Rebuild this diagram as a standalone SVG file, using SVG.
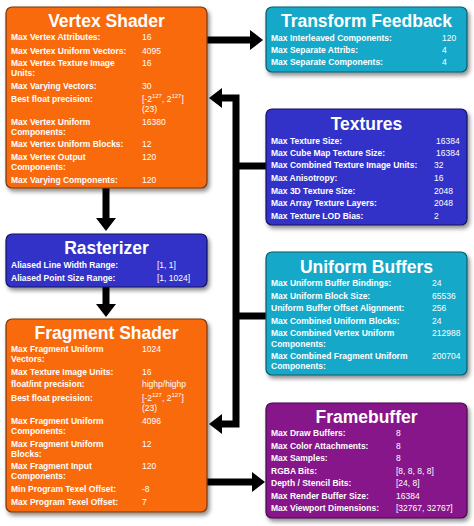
<svg xmlns="http://www.w3.org/2000/svg" width="474" height="526" viewBox="0 0 474 526">
<defs>
<filter id="sh" x="-10%" y="-10%" width="125%" height="130%">
<feDropShadow dx="2" dy="3" stdDeviation="2" flood-color="#000" flood-opacity="0.45"/>
</filter>
<marker id="ah" markerUnits="userSpaceOnUse" markerWidth="14" markerHeight="20" refX="0" refY="10" orient="auto-start-reverse" viewBox="0 0 14 20">
<path d="M0 0 L13 10 L0 20 Z" fill="#000"/>
</marker>
</defs>
<style>
text{font-family:"Liberation Sans",Arial,sans-serif;fill:#fff}
.t{font-size:17.5px;font-weight:bold;text-anchor:middle}
.l{font-size:8.5px;font-weight:bold}
.v{font-size:8.5px}
.s{font-size:6px}
.box{stroke-width:1.2;filter:url(#sh)}
.or{fill:#F96A0C;stroke:#7A3608}
.te{fill:#18A8C8;stroke:#0D5A6C}
.bl{fill:#3131C9;stroke:#15155E}
.pu{fill:#861689;stroke:#48094B}
.c{fill:none;stroke:#000;stroke-width:7;stroke-linejoin:miter}
</style>
<rect width="474" height="526" fill="#fff"/>

<g id="connectors">
<path class="c" d="M207 40 H250" marker-end="url(#ah)"/>
<path class="c" d="M222 98 H236 V424 H222" marker-start="url(#ah)" marker-end="url(#ah)"/>
<path class="c" d="M236 166 H266"/>
<path class="c" d="M236 316 H266"/>
<path class="c" d="M207 482 H252" marker-end="url(#ah)"/>
<path class="c" d="M106 188 V218" marker-end="url(#ah)"/>
<path class="c" d="M106 287 V304" marker-end="url(#ah)"/>
</g>

<g id="vertex-shader">
<rect class="box or" x="6" y="7" width="201" height="181" rx="6"/>
<text class="t" x="106.5" y="27">Vertex Shader</text>
<text class="l" x="11" y="40.3">Max Vertex Attributes:</text><text class="v" x="142" y="40.3">16</text>
<text class="l" x="11" y="53.7">Max Vertex Uniform Vectors:</text><text class="v" x="142" y="53.7">4095</text>
<text class="l" x="11" y="65.7">Max Vertex Texture Image</text><text class="l" x="11" y="75.5">Units:</text><text class="v" x="142" y="65.7">16</text>
<text class="l" x="11" y="88.7">Max Varying Vectors:</text><text class="v" x="142" y="88.7">30</text>
<text class="l" x="11" y="101.5">Best float precision:</text><text class="v" x="142" y="101.5">[-2<tspan class="s" dy="-3.5">127</tspan><tspan dy="3.5">, 2</tspan><tspan class="s" dy="-3.5">127</tspan><tspan dy="3.5">]</tspan></text><text class="v" x="142" y="112">(23)</text>
<text class="l" x="11" y="125.3">Max Vertex Uniform</text><text class="l" x="11" y="135.3">Components:</text><text class="v" x="142" y="125.3">16380</text>
<text class="l" x="11" y="147.3">Max Vertex Uniform Blocks:</text><text class="v" x="142" y="147.3">12</text>
<text class="l" x="11" y="160.3">Max Vertex Output</text><text class="l" x="11" y="170.3">Components:</text><text class="v" x="142" y="160.3">120</text>
<text class="l" x="11" y="183">Max Varying Components:</text><text class="v" x="142" y="183">120</text>
</g>

<g id="transform-feedback">
<rect class="box te" x="266" y="7" width="201" height="65" rx="6"/>
<text class="t" x="366.5" y="27">Transform Feedback</text>
<text class="l" x="271" y="40.7">Max Interleaved Components:</text><text class="v" x="442" y="40.7">120</text>
<text class="l" x="271" y="53">Max Separate Attribs:</text><text class="v" x="442" y="53">4</text>
<text class="l" x="271" y="64.7">Max Separate Components:</text><text class="v" x="442" y="64.7">4</text>
</g>

<g id="textures">
<rect class="box bl" x="266" y="109" width="201" height="116" rx="6"/>
<text class="t" x="366.5" y="129.5">Textures</text>
<text class="l" x="271" y="143.7">Max Texture Size:</text><text class="v" x="436" y="143.7">16384</text>
<text class="l" x="271" y="155.7">Max Cube Map Texture Size:</text><text class="v" x="436" y="155.7">16384</text>
<text class="l" x="271" y="168.3">Max Combined Texture Image Units:</text><text class="v" x="434" y="168.3">32</text>
<text class="l" x="271" y="181.3">Max Anisotropy:</text><text class="v" x="434" y="181.3">16</text>
<text class="l" x="271" y="193.7">Max 3D Texture Size:</text><text class="v" x="434" y="193.7">2048</text>
<text class="l" x="271" y="206.3">Max Array Texture Layers:</text><text class="v" x="434" y="206.3">2048</text>
<text class="l" x="271" y="219">Max Texture LOD Bias:</text><text class="v" x="434" y="219">2</text>
</g>

<g id="rasterizer">
<rect class="box bl" x="6" y="234" width="201" height="53" rx="6"/>
<text class="t" x="106.5" y="254">Rasterizer</text>
<text class="l" x="11" y="268">Aliased Line Width Range:</text><text class="v" x="157" y="268">[1, 1]</text>
<text class="l" x="11" y="280.7">Aliased Point Size Range:</text><text class="v" x="157" y="280.7">[1, 1024]</text>
</g>

<g id="uniform-buffers">
<rect class="box te" x="266" y="252" width="201" height="123" rx="6"/>
<text class="t" x="366.5" y="272.5">Uniform Buffers</text>
<text class="l" x="271" y="286.3">Max Uniform Buffer Bindings:</text><text class="v" x="432" y="286.3">24</text>
<text class="l" x="271" y="299">Max Uniform Block Size:</text><text class="v" x="432" y="299">65536</text>
<text class="l" x="271" y="311.3">Uniform Buffer Offset Alignment:</text><text class="v" x="432" y="311.3">256</text>
<text class="l" x="271" y="324">Max Combined Uniform Blocks:</text><text class="v" x="432" y="324">24</text>
<text class="l" x="271" y="336.3">Max Combined Vertex Uniform</text><text class="l" x="271" y="346.5">Components:</text><text class="v" x="432" y="336.3">212988</text>
<text class="l" x="271" y="359">Max Combined Fragment Uniform</text><text class="l" x="271" y="369">Components:</text><text class="v" x="432" y="359">200704</text>
</g>

<g id="fragment-shader">
<rect class="box or" x="6" y="319" width="201" height="193" rx="6"/>
<text class="t" x="106.5" y="338.5">Fragment Shader</text>
<text class="l" x="11" y="352">Max Fragment Uniform</text><text class="l" x="11" y="362">Vectors:</text><text class="v" x="142" y="352">1024</text>
<text class="l" x="11" y="374.7">Max Texture Image Units:</text><text class="v" x="142" y="374.7">16</text>
<text class="l" x="11" y="387">float/int precision:</text><text class="v" x="142" y="387">highp/highp</text>
<text class="l" x="11" y="400.5">Best float precision:</text><text class="v" x="142" y="400.5">[-2<tspan class="s" dy="-3.5">127</tspan><tspan dy="3.5">, 2</tspan><tspan class="s" dy="-3.5">127</tspan><tspan dy="3.5">]</tspan></text><text class="v" x="142" y="411.3">(23)</text>
<text class="l" x="11" y="424">Max Fragment Uniform</text><text class="l" x="11" y="434">Components:</text><text class="v" x="142" y="424">4096</text>
<text class="l" x="11" y="447">Max Fragment Uniform</text><text class="l" x="11" y="457.3">Blocks:</text><text class="v" x="142" y="447">12</text>
<text class="l" x="11" y="469">Max Fragment Input</text><text class="l" x="11" y="479">Components:</text><text class="v" x="142" y="469">120</text>
<text class="l" x="11" y="492.3">Min Program Texel Offset:</text><text class="v" x="142" y="492.3">-8</text>
<text class="l" x="11" y="504.7">Max Program Texel Offset:</text><text class="v" x="142" y="504.7">7</text>
</g>

<g id="framebuffer">
<rect class="box pu" x="266" y="403" width="201" height="115" rx="6"/>
<text class="t" x="366.5" y="423">Framebuffer</text>
<text class="l" x="271" y="436.3">Max Draw Buffers:</text><text class="v" x="396" y="436.3">8</text>
<text class="l" x="271" y="448.7">Max Color Attachments:</text><text class="v" x="396" y="448.7">8</text>
<text class="l" x="271" y="461.3">Max Samples:</text><text class="v" x="396" y="461.3">8</text>
<text class="l" x="271" y="473.7">RGBA Bits:</text><text class="v" x="396" y="473.7">[8, 8, 8, 8]</text>
<text class="l" x="271" y="486.3">Depth / Stencil Bits:</text><text class="v" x="396" y="486.3">[24, 8]</text>
<text class="l" x="271" y="499">Max Render Buffer Size:</text><text class="v" x="396" y="499">16384</text>
<text class="l" x="271" y="511.3">Max Viewport Dimensions:</text><text class="v" x="396" y="511.3">[32767, 32767]</text>
</g>
</svg>
